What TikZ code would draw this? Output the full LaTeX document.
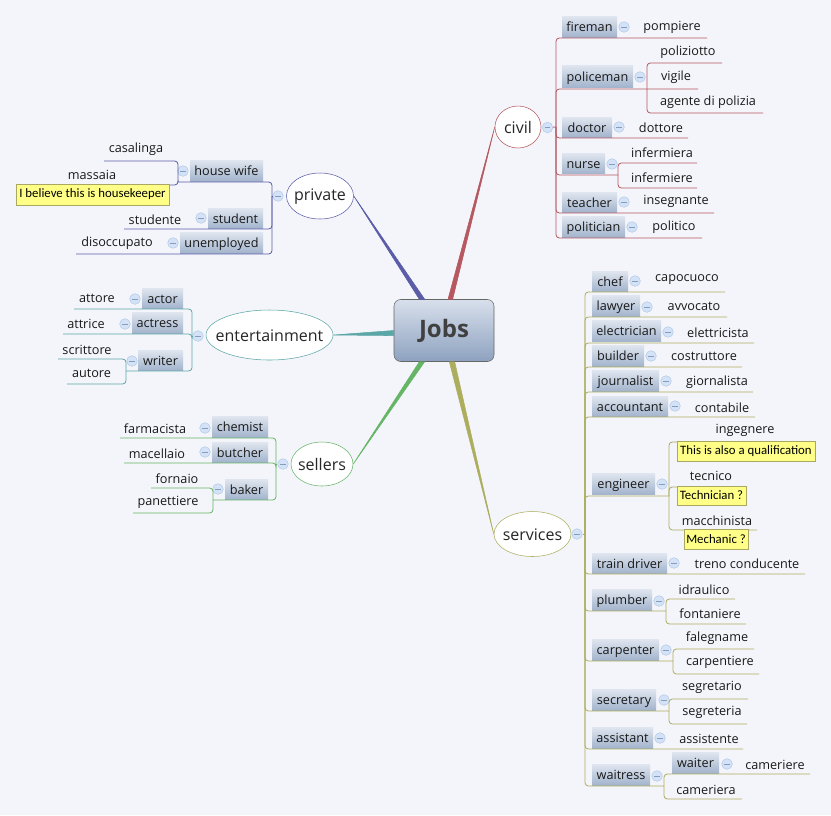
\documentclass[tikz,border=0pt]{standalone}
\usepackage{fontspec}
\setmainfont{Open Sans}
\newfontfamily\notefont{Carlito}
\usetikzlibrary{shapes.geometric}
\definecolor{pagebg}{HTML}{F3F5FA}
\definecolor{civilred}{HTML}{B5585F}
\definecolor{privateblue}{HTML}{5A5CA8}
\definecolor{enterteal}{HTML}{5BA6A6}
\definecolor{sellergreen}{HTML}{66B566}
\definecolor{serviceolive}{HTML}{ADAD5E}
\definecolor{boxtop}{HTML}{E0E6EF}
\definecolor{boxbottom}{HTML}{A3B4CD}
\definecolor{jobstop}{HTML}{D8E0EC}
\definecolor{jobsbottom}{HTML}{8DA1BF}
\definecolor{minusfill}{HTML}{D3E2F6}
\definecolor{minusline}{HTML}{A9C3E6}
\definecolor{notefill}{HTML}{FFFF88}
\definecolor{noteline}{HTML}{A8A860}
\tikzset{
	jobs/.style={rectangle, rounded corners=5pt, draw=black!60, top color=jobstop, bottom color=jobsbottom, font=\bfseries\fontsize{18}{20}\selectfont, text=black!75, minimum width=75pt, minimum height=46.5pt},
	topic/.style={ellipse, fill=white, inner sep=0pt, text height=11pt, text depth=2pt, font=\fontsize{12}{14}\selectfont, text=black!85},
	jobbox/.style={rectangle, inner sep=0pt, text height=9pt, text depth=1.5pt, top color=boxtop, bottom color=boxbottom, font=\fontsize{9.5}{12}\selectfont, text=black!90},
	leaf/.style={inner sep=0pt, yshift=-.6pt, font=\fontsize{9.5}{12}\selectfont, text=black!90},
	note/.style={rectangle, draw=noteline, fill=notefill, inner sep=0pt, font=\notefont\fontsize{9.6}{12}\selectfont},
	minus/.style={circle, fill=minusfill, draw=minusline, line width=.3pt, inner sep=0pt, minimum size=8pt, path picture={\draw[minusline!80!black, line width=.5pt] ([xshift=2pt]path picture bounding box.west) -- ([xshift=-2pt]path picture bounding box.east);}},
	civilline/.style={civilred, line width=.6pt, rounded corners=2.5pt},
	privateline/.style={privateblue, line width=.6pt, rounded corners=2.5pt},
	enterline/.style={enterteal, line width=.6pt, rounded corners=2.5pt},
	sellerline/.style={sellergreen, line width=.6pt, rounded corners=2.5pt},
	serviceline/.style={serviceolive, line width=.6pt, rounded corners=2.5pt}
}
\begin{document}
\begin{tikzpicture}[x=.75pt,y=-.75pt]

	\path [use as bounding box, fill=pagebg] (0,0) rectangle (831,815);

	% central node and topics
	\node [jobs] (jobs) at (444,330.5) {Jobs};
	\node [topic, draw=civilred, minimum width=34.5pt, minimum height=31.5pt] (civil) at (518,127) {\makebox[0pt]{civil}};
	\node [topic, draw=privateblue, text height=9.5pt, text depth=2.5pt, minimum width=50.25pt, minimum height=34.5pt] (private) at (320,196) {\makebox[0pt]{private}};
	\node [topic, draw=enterteal, minimum width=95.25pt, minimum height=37.5pt] (entertainment) at (269.5,335) {\makebox[0pt]{entertainment}};
	\node [topic, draw=sellergreen, minimum width=46.5pt, minimum height=33pt] (sellers) at (322,464) {\makebox[0pt]{sellers}};
	\node [topic, draw=serviceolive, minimum width=57.75pt, minimum height=33.75pt] (services) at (532.5,534) {\makebox[0pt]{services}};

	% thick branches
	\filldraw [civilred, line width=.4pt] ([xshift=3pt]jobs.north) -- ([xshift=6.5pt]jobs.north) -- (civil.west) -- cycle;
	\filldraw [privateblue, line width=.4pt] ([xshift=-18.5pt]jobs.north) -- ([xshift=-14.5pt]jobs.north) -- (private.east) -- cycle;
	\filldraw [enterteal, line width=.4pt] ([yshift=0pt]jobs.west) -- ([yshift=-3.8pt]jobs.west) -- (entertainment.east) -- cycle;
	\filldraw [sellergreen, line width=.4pt] ([xshift=-18.5pt]jobs.south) -- ([xshift=-14.5pt]jobs.south) -- (sellers.east) -- cycle;
	\filldraw [serviceolive, line width=.4pt] ([xshift=4pt]jobs.south) -- ([xshift=8pt]jobs.south) -- (services.west) -- cycle;

	% topic minus signs
	\foreach \nm/\mx/\my in {civil/547.5/127.5, private/278/196, entertainment/198/336, sellers/283/464, services/577/534}
		\node [minus] (\nm-minus) at (\mx,\my) {};

	% job boxes and their minus signs
	\foreach \nm/\xa/\xb/\ya/\yb/\lab/\mx/\my in {
		fireman/562/617/16/37/fireman/624/27, policeman/562/633/65/87/policeman/640/77,
		doctor/562/612/117/137/doctor/619/127, nurse/562/605/153/173.5/nurse/612/164,
		teacher/562/617/192/212/teacher/624/202, politician/562/625/216/237/politician/632/227,
		housewife/190/263/160/181/house wife/183/171, student/208/263/208/228/student/201/218,
		unemployed/180/263/232/253/unemployed/173/243,
		actor/142/183/288/308/actor/135/299, actress/132/183/312/333/actress/125/324,
		writer/138/183/350/370/writer/132/361,
		chemist/212/268/416/437/chemist/205/428, butcher/212/268/442/462/butcher/205/452,
		baker/225/268/479/499/baker/218/489,
		chef/592/628/271/291/chef/635/281, lawyer/592/640/295/316/lawyer/647/307,
		electrician/592/661/320/341/electrician/668/332, builder/592/644/345/366/builder/651/356,
		journalist/592/659/370/391/journalist/666/381, accountant/592/668/396/416/accountant/675/406,
		engineer/592/655/473/494/engineer/662/484, traindriver/592/667/553/573/train driver/674/563,
		plumber/592/652/589/610/plumber/659/601, carpenter/592/659/639/660/carpenter/666/650,
		secretary/592/656/689/710/secretary/664/700, assistant/592/653/727/748/assistant/660/738,
		waitress/592/650/764/785/waitress/657/776, waiter/672/719/752/773/waiter/727/764}
	{
		\node [jobbox, minimum width={(\xb-\xa)*.75pt}, minimum height={(\yb-\ya)*.75pt}] (\nm) at ({(\xa+\xb)/2},{(\ya+\yb)/2}) {\lab};
		\node [minus] (\nm-minus) at (\mx,\my) {};
	}

	% translations
	\foreach \nm/\x/\y/\lab in {
		pompiere/672/27/pompiere, poliziotto/688/51/poliziotto, vigile/676/76/vigile,
		agente/708/101/agente di polizia, dottore/661/127/dottore, infermiera/662/152/infermiera,
		infermiere/662/177/infermiere, insegnante/676/201/insegnante, politico/674/226/politico,
		casalinga/136/148/casalinga, massaia/92/174/massaia, studente/155/219/studente,
		disoccupato/117/242/disoccupato,
		attore/97/298/attore, attrice/86/323/attrice, scrittore/87/349/scrittore, autore/91.5/373/autore,
		farmacista/155/428/farmacista, macellaio/157/453/macellaio, fornaio/177/478/fornaio,
		panettiere/168/502/panettiere,
		capocuoco/687/279/capocuoco, avvocato/694/306/avvocato, elettricista/718/332/elettricista,
		costruttore/704/356/costruttore, giornalista/717/381/giornalista, contabile/722/407/contabile,
		ingegnere/745/430/ingegnere, tecnico/711/475/tecnico, macchinista/717/520/macchinista,
		treno/747/563/treno conducente, idraulico/704/589/idraulico, fontaniere/710/613/fontaniere,
		falegname/717/637/falegname, carpentiere/720/662/carpentiere, segretario/712/687/segretario,
		segreteria/712/712/segreteria, assistente/709/738/assistente, cameriere/775/764/cameriere,
		cameriera/706/789/cameriera}
		\node [leaf] (\nm) at (\x,\y) {\lab};

	% line ends
	\foreach \nm/\x/\y in {
		fireman/707/38, policeman/698/89, doctor/688/138, nurse/618/175, teacher/714/213, politician/702/238,
		poliziotto/722/63, agente/763/113, infermiera/697/163, infermiere/697/188,
		housewife/178/182, student/124/229, unemployed/76/254, casalinga/104/161, massaia/60/185,
		actor/74/309, actress/63/334, writer/126/371, scrittore/58/359, autore/67/384,
		chemist/120/438, butcher/124/463, baker/213/500, fornaio/151/488, panettiere/133/513,
		chef/725/292, lawyer/727/317, electrician/754/343, builder/742/367, journalist/753/392,
		accountant/755/417, engineer/669/496, traindriver/805/574, plumber/666/611, carpenter/673/661,
		secretary/669/711, assistant/743/749, waitress/664/786,
		ingegnere/770/442, tecnico/730/487, macchinista/757/530, idraulico/735/599, fontaniere/746/624,
		falegname/754/649, carpentiere/759/674, segretario/748/699, segreteria/747/724,
		waiter/810/774, cameriera/742/799}
		\coordinate (\nm-end) at (\x,\y);

	% civil lines
	\coordinate (civil-trunk) at (556,127);
	\coordinate (policeman-fork) at (647,89);
	\draw [civilline] (civil-minus) -- (civil-trunk);
	\foreach \nm in {fireman,policeman,doctor,nurse,teacher,politician}
		\draw [civilline] (civil-trunk) |- (\nm-end);
	\foreach \nm in {poliziotto,agente}
		\draw [civilline] (policeman-fork) |- (\nm-end);
	\foreach \nm in {infermiera,infermiere}
		\draw [civilline] (nurse-end) |- (\nm-end);

	% private lines
	\coordinate (private-trunk) at (272,196);
	\draw [privateline] (private-minus) -- (private-trunk);
	\foreach \nm in {housewife,student,unemployed}
		\draw [privateline] (private-trunk) |- (\nm-end);
	\foreach \nm in {casalinga,massaia}
		\draw [privateline] (housewife-end) |- (\nm-end);

	% entertainment lines
	\coordinate (entertainment-trunk) at (192,336);
	\draw [enterline] (entertainment-minus) -- (entertainment-trunk);
	\foreach \nm in {actor,actress,writer}
		\draw [enterline] (entertainment-trunk) |- (\nm-end);
	\foreach \nm in {scrittore,autore}
		\draw [enterline] (writer-end) |- (\nm-end);

	% sellers lines
	\coordinate (sellers-trunk) at (276,464);
	\draw [sellerline] (sellers-minus) -- (sellers-trunk);
	\foreach \nm in {chemist,butcher,baker}
		\draw [sellerline] (sellers-trunk) |- (\nm-end);
	\foreach \nm in {fornaio,panettiere}
		\draw [sellerline] (baker-end) |- (\nm-end);

	% services lines
	\coordinate (services-trunk) at (585,534);
	\draw [serviceline] (services-minus) -- (services-trunk);
	\foreach \nm in {chef,lawyer,electrician,builder,journalist,accountant,engineer,traindriver,plumber,carpenter,secretary,assistant,waitress}
		\draw [serviceline] (services-trunk) |- (\nm-end);
	\foreach \fork/\nma/\nmb in {engineer/ingegnere/macchinista, plumber/idraulico/fontaniere, carpenter/falegname/carpentiere, secretary/segretario/segreteria, waitress/waiter/cameriera}
	{
		\draw [serviceline] (\fork-end) |- (\nma-end);
		\draw [serviceline] (\fork-end) |- (\nmb-end);
	}
	\draw [serviceline] (engineer-end) |- (tecnico-end);

	% notes
	\node [note, minimum width=114.75pt, minimum height=15.75pt] (housekeeper) at (92.5,194.5) {I believe this is housekeeper};
	\node [note, minimum width=103.5pt, minimum height=15pt] (qualification) at (746,451) {This is also a qualification};
	\node [note, minimum width=51.75pt, minimum height=14.25pt] (technician) at (711.5,495.5) {Technician ?};
	\node [note, minimum width=48pt, minimum height=15pt] (mechanic) at (716,539) {Mechanic ?};

\end{tikzpicture}
\end{document}
